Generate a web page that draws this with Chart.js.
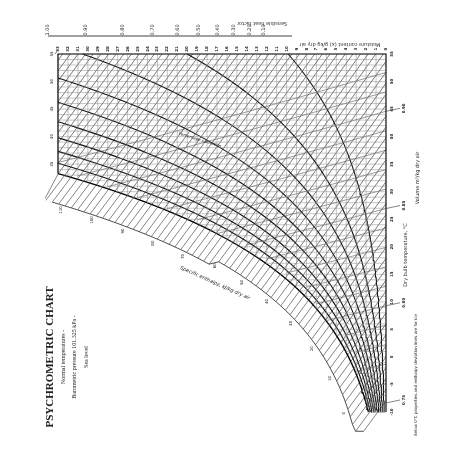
<!DOCTYPE html>
<html>
<head>
<meta charset="utf-8">
<script src="https://cdn.jsdelivr.net/npm/chart.js@4"></script>
<style>
  html, body { margin: 0; padding: 0; background: #fff; }
  #wrap { width: 452px; height: 452px; }
</style>
</head>
<body>
<div id="wrap"><canvas id="c"></canvas></div>
<script>
// chart values
const dryBulbTicks = [-10, -5, 0, 5, 10, 15, 20, 25, 30, 35, 40, 45, 50, 55];
const moistureTicks = [0, 1, 2, 3, 4, 5, 6, 7, 8, 9, 10, 11, 12, 13, 14, 15, 16, 17, 18, 19, 20, 21, 22, 23, 24, 25, 26, 27, 28, 29, 30, 31, 32, 33];
const rhCurves = [10, 20, 30, 40, 50, 60, 70, 80, 90];
const enthalpyLines = [-8, -6, -4, -2, 0, 2, 4, 6, 8, 10, 12, 14, 16, 18, 20, 22, 24, 26, 28, 30, 32, 34, 36, 38, 40, 42, 44, 46, 48, 50, 52, 54, 56, 58, 60, 62, 64, 66, 68, 70, 72, 74, 76, 78, 80, 82, 84, 86, 88, 90, 92, 94, 96, 98, 100, 102, 104, 106, 108, 110, 112, 114, 116, 118, 120, 122, 124, 126, 128, 130, 132, 134, 136, 138, 140, 142];
const enthalpyLabels = [0, 10, 20, 30, 40, 50, 60, 70, 80, 90, 100, 110];
const volumeLines = [0.76, 0.77, 0.78, 0.79, 0.80, 0.81, 0.82, 0.83, 0.84, 0.85, 0.86, 0.87, 0.88, 0.89, 0.90, 0.91, 0.92, 0.93];
const volumeLabels = [0.75, 0.80, 0.85, 0.90];
const shfLabels = ["1.00", "0.90", "0.80", "0.70", "0.60", "0.50", "0.40", "0.30", "0.20", "0.10"];

const T_MIN = -10, T_MAX = 55, W_MAX = 33;

function psat(t) { return 0.61094 * Math.exp(17.625 * t / (t + 243.04)); }
function wsat(t) { const p = psat(t); return 622 * p / (101.325 - p); }
function wRH(t, rh) { const p = psat(t) * rh / 100; return 622 * p / (101.325 - p); }
function wEnth(h, t) { return 1000 * (h - 1.006 * t) / (2501 + 1.86 * t); }
function tVol(v, w) { return v * 101.325 / (0.287 * (1 + 1.6078 * w / 1000)) - 273.15; }
function solve(f, a, b) {
  for (let i = 0; i < 60; i++) { const m = (a + b) / 2; if (f(a) * f(m) <= 0) b = m; else a = m; }
  return (a + b) / 2;
}
const GAP = { x: NaN, y: NaN };

// saturation
const satPts = [];
for (let t = T_MIN; t <= 45; t += 0.5) { const w = wsat(t); if (w > W_MAX) break; satPts.push({ x: w, y: t }); }
const tSatMax = solve(t => wsat(t) - W_MAX, 20, 45);
satPts.push({ x: W_MAX, y: tSatMax });

// dry bulb lines
const dbPts = [];
for (let t = T_MIN; t <= T_MAX; t += 1) {
  dbPts.push({ x: Math.min(wsat(t), W_MAX), y: t }, { x: 0, y: t }, GAP);
}
// moisture lines
const wPts = [];
for (let w = 1; w <= W_MAX; w += 1) {
  const ts = solve(t => wsat(t) - w, -10, 45);
  wPts.push({ x: w, y: Math.max(ts, T_MIN) }, { x: w, y: T_MAX }, GAP);
}
// rh curves
const rhPts = [];
rhCurves.forEach(rh => {
  for (let t = T_MIN; t <= T_MAX; t += 0.5) {
    const w = wRH(t, rh);
    if (w > W_MAX) { const te = solve(tt => wRH(tt, rh) - W_MAX, t - 0.5, t); rhPts.push({ x: W_MAX, y: te }); break; }
    rhPts.push({ x: w, y: t });
  }
  rhPts.push(GAP);
});
// enthalpy lines + extension to scale
const hPts = [], hExt = [], hScale = [], hLab = [];
enthalpyLines.forEach(h => {
  let tStart = Math.min(h / 1.006, T_MAX);
  if (tStart < T_MIN) return;
  const ts = solve(t => wEnth(h, t) - wsat(t), -40, 60);
  let tEnd, wEnd;
  if (ts >= T_MIN && wsat(ts) <= W_MAX) { tEnd = ts; wEnd = wsat(ts); }
  else if (ts < T_MIN) { tEnd = T_MIN; wEnd = wEnth(h, T_MIN); }
  else { tEnd = solve(t => wEnth(h, t) - W_MAX, -10, 60); wEnd = W_MAX; }
  hPts.push({ x: wEnth(h, tStart), y: tStart }, { x: wEnd, y: tEnd }, GAP);
  if (wEnd < W_MAX) {
    const te = tEnd - (h > 60 ? 4.5 : 3.5);
    const pe = { x: Math.min(wEnth(h, te), W_MAX + 1.3), y: te };
    hExt.push({ x: wEnd, y: tEnd }, pe, GAP);
    hScale.push(pe);
    if (enthalpyLabels.includes(h)) hLab.push({ h, p: pe });
  }
});
// volume lines
const vPts = [];
volumeLines.forEach(v => {
  const t0 = tVol(v, 0);
  if (t0 > T_MAX || t0 < T_MIN - 3) return;
  for (let w = 0; w <= W_MAX; w += 1) {
    const t = tVol(v, w);
    if (w > wsat(t) || t < T_MIN) break;
    vPts.push({ x: w, y: t });
  }
  vPts.push(GAP);
});

const line = (data, color, width, dash) => ({
  type: 'scatter', data, showLine: true, spanGaps: false, pointRadius: 0,
  borderColor: color, borderWidth: width, borderDash: dash || [], clip: false
});

const texts = {
  id: 'texts',
  afterDraw(chart) {
    const c = chart.ctx, xs = chart.scales.x, ys = chart.scales.y, a = chart.chartArea;
    const rot = (s, x, y, ang, font, align) => {
      c.save(); c.translate(x, y); c.rotate(ang); c.font = font; c.fillStyle = '#222';
      c.textAlign = align || 'center'; c.textBaseline = 'middle'; c.fillText(s, 0, 0); c.restore();
    };
    const up = -Math.PI / 2;
    // frame
    c.save(); c.strokeStyle = '#111'; c.lineWidth = 1.2; c.beginPath();
    c.moveTo(xs.getPixelForValue(W_MAX), ys.getPixelForValue(tSatMax));
    c.lineTo(a.left, a.top); c.lineTo(a.right, a.top); c.lineTo(a.right, a.bottom); c.stroke();
    // SHF scale
    c.beginPath(); c.moveTo(48, 36); c.lineTo(292, 36); c.lineWidth = 0.8; c.stroke(); c.restore();
    const shfX = [48, 86, 123, 153, 178, 199, 218, 234, 250, 264];
    shfLabels.forEach((s, i) => rot(s, shfX[i], 30, up, '5px "DejaVu Sans"'));
    rot('Sensible heat factor', 262, 23, Math.PI, '5px "DejaVu Sans"');
    rot('Moisture content (x) g/kg dry air', 340, 44, Math.PI, '5px "DejaVu Sans"');
    moistureTicks.forEach(w => rot(String(w), xs.getPixelForValue(w), 49, up, 'bold 4px "DejaVu Sans"'));
    dryBulbTicks.forEach(t => rot(String(t), a.right + 6, ys.getPixelForValue(t), up, 'bold 4px "DejaVu Sans"'));
    dryBulbTicks.forEach(t => { if (t >= 35) rot(String(t), a.left - 6, ys.getPixelForValue(t), up, '4px "DejaVu Sans"'); });
    volumeLabels.forEach(v => {
      const y = ys.getPixelForValue(tVol(v, 0));
      c.save(); c.strokeStyle = '#333'; c.lineWidth = 0.6; c.beginPath();
      c.moveTo(a.right, y); c.lineTo(a.right + 14, y - 3); c.stroke(); c.restore();
      rot(v.toFixed(2), a.right + 18, y - 3, up, 'bold 4px "DejaVu Sans"');
    });
    rot('Volume m³/kg dry air', 418, 178, up, '5px "DejaVu Sans"');
    rot('Dry bulb temperature, °C', 406, 255, up, '5px "DejaVu Sans"');
    rot('Below 0°C properties and enthalpy deviation lines are for ice', 416, 375, up, '4px "DejaVu Sans"');
    hLab.forEach(o => {
      rot(String(o.h), xs.getPixelForValue(o.p.x) - 4, ys.getPixelForValue(o.p.y) + 4, up, '4px "DejaVu Sans"');
    });
    rot('Specific enthalpy, kJ/kg dry air', 215, 283, 0.42, 'italic 5px "DejaVu Sans"');
    rot('Percentage saturation', 200, 140, 0.3, 'italic 4px "DejaVu Sans"');
    // title
    rot('PSYCHROMETRIC CHART', 50, 357, up, 'bold 11px "Liberation Serif"');
    rot('Normal temperatures -', 63, 357, up, '6px "Liberation Serif"');
    rot('Barometric pressure 101.325 kPa -', 74, 357, up, '6px "Liberation Serif"');
    rot('Sea level', 86, 357, up, '6px "Liberation Serif"');
  }
};

new Chart(document.getElementById('c'), {
  type: 'scatter',
  data: {
    datasets: [
      line(dbPts, '#8a8a8a', 0.5),
      line(wPts, '#8a8a8a', 0.5),
      line(vPts, '#555', 0.6),
      line(hPts, '#222', 0.6),
      line(hExt, '#333', 0.6),
      line(hScale, '#222', 0.8),
      line(rhPts, '#111', 1.1),
      line(satPts, '#000', 1.4)
    ]
  },
  options: {
    responsive: true, maintainAspectRatio: false, animation: false,
    layout: { padding: { left: 58, right: 66, top: 54, bottom: 40 } },
    plugins: { legend: { display: false }, tooltip: { enabled: false } },
    scales: {
      x: { display: false, reverse: true, min: 0, max: W_MAX },
      y: { display: false, min: T_MIN, max: T_MAX }
    }
  },
  plugins: [texts]
});
</script>
</body>
</html>
